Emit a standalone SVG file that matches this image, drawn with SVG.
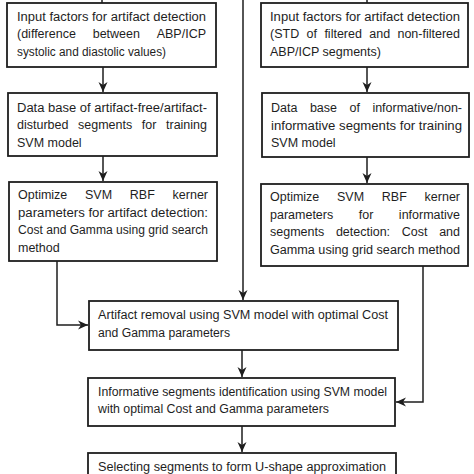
<svg xmlns="http://www.w3.org/2000/svg" width="474" height="474" viewBox="0 0 474 474">
<style>
.b{fill:#fff;stroke:#1e1e1e;stroke-width:1.8}
.t{font-family:"Liberation Sans",Arial,sans-serif;font-size:12.5px;fill:#1e1e1e}
.e{text-anchor:end}
.c{fill:none;stroke:#1e1e1e;stroke-width:1.5}
</style>
<defs>
<marker id="ah" viewBox="0 0 10 10" refX="10" refY="5" markerWidth="10" markerHeight="10" markerUnits="userSpaceOnUse" orient="auto">
<path d="M0,0.5 L10,5 L0,9.5 L3,5 z" fill="#1e1e1e"/>
</marker>
</defs>
<rect width="474" height="474" fill="#fff"/>

<g id="connectors">
<line class="c" x1="102" y1="0" x2="102" y2="3"/>
<line class="c" x1="367" y1="0" x2="367" y2="3"/>
<line class="c" x1="243" y1="0" x2="243" y2="300" marker-end="url(#ah)"/>
<line class="c" x1="103" y1="67" x2="103" y2="92" marker-end="url(#ah)"/>
<line class="c" x1="103" y1="156" x2="103" y2="181" marker-end="url(#ah)"/>
<line class="c" x1="367" y1="67" x2="367" y2="92" marker-end="url(#ah)"/>
<line class="c" x1="367" y1="157" x2="367" y2="183" marker-end="url(#ah)"/>
<polyline class="c" points="57,261 57,325 88,325" marker-end="url(#ah)"/>
<polyline class="c" points="423,266 423,402 396,402" marker-end="url(#ah)"/>
<line class="c" x1="242" y1="350" x2="242" y2="377" marker-end="url(#ah)"/>
<line class="c" x1="242" y1="426" x2="242" y2="452" marker-end="url(#ah)"/>
</g>

<g id="n1">
<rect class="b" x="7" y="3" width="209" height="64"/>
<text class="t" x="17" y="20.5" textLength="189" lengthAdjust="spacingAndGlyphs">Input factors for artifact detection</text>
<text class="t" x="17" y="38.2">(difference</text>
<text class="t" x="92.7" y="38.2">between</text>
<text class="t e" x="206" y="38.2">ABP/ICP</text>
<text class="t" x="17" y="56" textLength="149" lengthAdjust="spacingAndGlyphs">systolic and diastolic values)</text>
</g>

<g id="n2">
<rect class="b" x="8" y="93" width="209" height="63"/>
<text class="t" x="17" y="111.5" textLength="190" lengthAdjust="spacingAndGlyphs">Data base of artifact-free/artifact-</text>
<text class="t" x="17" y="129">disturbed</text>
<text class="t" x="78" y="129">segments</text>
<text class="t" x="141.8" y="129">for</text>
<text class="t e" x="207" y="129">training</text>
<text class="t" x="17" y="146.5">SVM model</text>
</g>

<g id="n3">
<rect class="b" x="9" y="182" width="208" height="79"/>
<text class="t" x="18" y="199.3">Optimize</text>
<text class="t" x="85" y="199.3">SVM</text>
<text class="t" x="129.8" y="199.3">RBF</text>
<text class="t e" x="208" y="199.3">kerner</text>
<text class="t" x="18" y="216.8" textLength="190" lengthAdjust="spacingAndGlyphs">parameters for artifact detection:</text>
<text class="t" x="18" y="234.3" textLength="190" lengthAdjust="spacingAndGlyphs">Cost and Gamma using grid search</text>
<text class="t" x="18" y="251.8">method</text>
</g>

<g id="n4">
<rect class="b" x="261" y="3" width="207" height="64"/>
<text class="t" x="270" y="20.5" textLength="190" lengthAdjust="spacingAndGlyphs">Input factors for artifact detection</text>
<text class="t" x="270" y="38.2">(STD</text>
<text class="t" x="306.6" y="38.2">of</text>
<text class="t" x="324.4" y="38.2">filtered</text>
<text class="t" x="369.3" y="38.2">and</text>
<text class="t e" x="460" y="38.2">non-filtered</text>
<text class="t" x="270" y="56">ABP/ICP segments)</text>
</g>

<g id="n5">
<rect class="b" x="262" y="93" width="207" height="64"/>
<text class="t" x="271" y="112">Data</text>
<text class="t" x="309.9" y="112">base</text>
<text class="t" x="349.5" y="112">of</text>
<text class="t e" x="462" y="112">informative/non-</text>
<text class="t" x="271" y="129.5" textLength="191" lengthAdjust="spacingAndGlyphs">informative segments for training</text>
<text class="t" x="271" y="147">SVM model</text>
</g>

<g id="n6">
<rect class="b" x="261" y="184" width="207" height="82"/>
<text class="t" x="270" y="201.3">Optimize</text>
<text class="t" x="337" y="201.3">SVM</text>
<text class="t" x="381.8" y="201.3">RBF</text>
<text class="t e" x="460" y="201.3">kerner</text>
<text class="t" x="270" y="218.8">parameters</text>
<text class="t" x="358.8" y="218.8">for</text>
<text class="t e" x="460" y="218.8">informative</text>
<text class="t" x="270" y="236.3">segments</text>
<text class="t" x="335.9" y="236.3">detection:</text>
<text class="t" x="401.8" y="236.3">Cost</text>
<text class="t e" x="460" y="236.3">and</text>
<text class="t" x="270" y="253.8" textLength="190" lengthAdjust="spacingAndGlyphs">Gamma using grid search method</text>
</g>

<g id="n7">
<rect class="b" x="89" y="301" width="309" height="49"/>
<text class="t" x="98" y="319.3" textLength="290" lengthAdjust="spacingAndGlyphs">Artifact removal using SVM model with optimal Cost</text>
<text class="t" x="98" y="336.8" textLength="132" lengthAdjust="spacingAndGlyphs">and Gamma parameters</text>
</g>

<g id="n8">
<rect class="b" x="88" y="378" width="307" height="48"/>
<text class="t" x="98" y="395.8" textLength="289" lengthAdjust="spacingAndGlyphs">Informative segments identification using SVM model</text>
<text class="t" x="98" y="413" textLength="231" lengthAdjust="spacingAndGlyphs">with optimal Cost and Gamma parameters</text>
</g>

<g id="n9">
<rect class="b" x="88" y="453" width="308" height="40"/>
<text class="t" x="98" y="471" textLength="288" lengthAdjust="spacingAndGlyphs">Selecting segments to form U-shape approximation</text>
</g>
</svg>
